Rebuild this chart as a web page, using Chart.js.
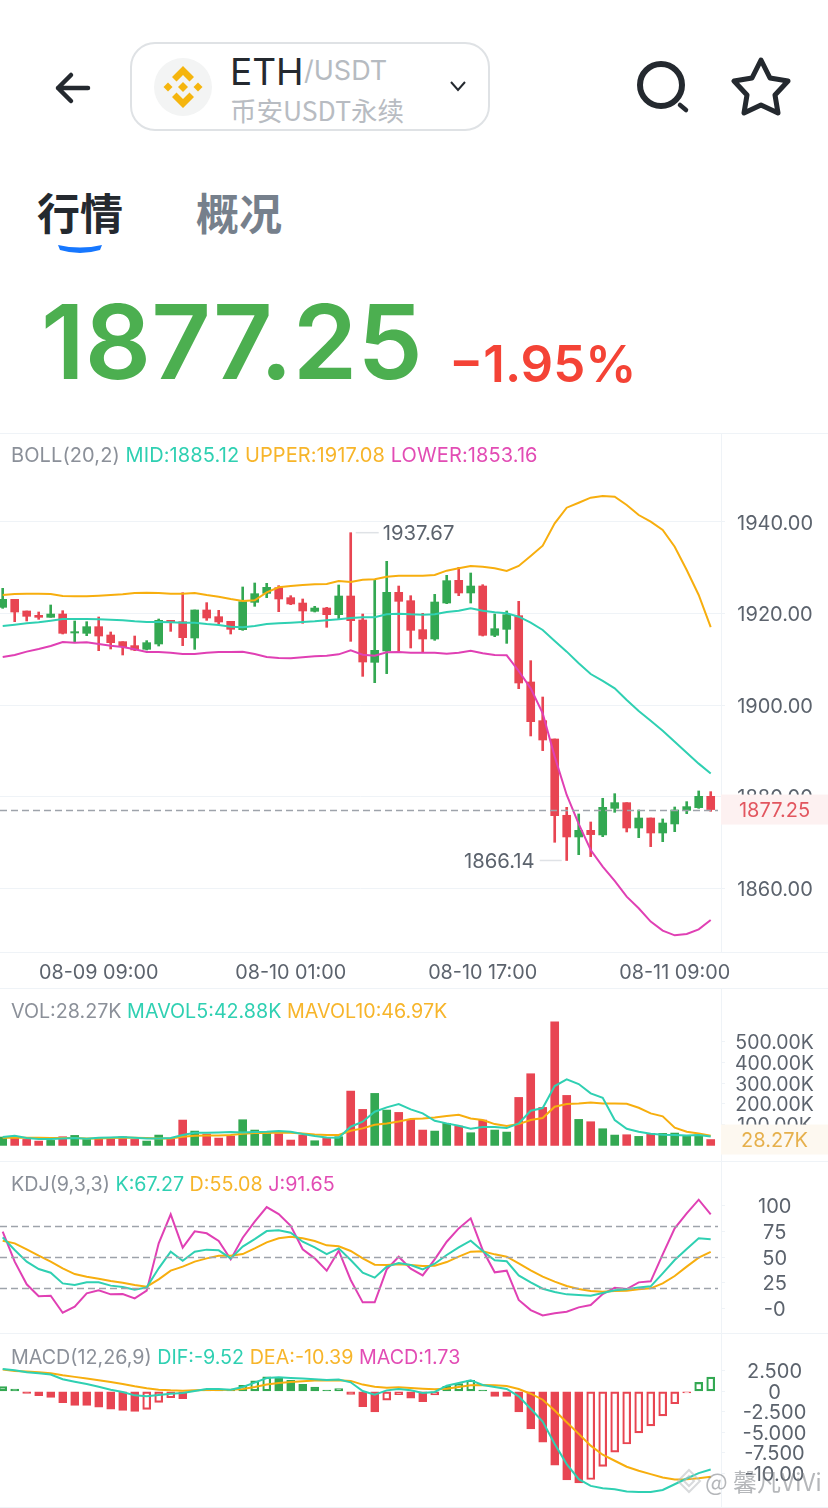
<!DOCTYPE html>
<html lang="zh">
<head>
<meta charset="utf-8">
<title>ETH/USDT</title>
<script src="https://cdn.jsdelivr.net/npm/chart.js@4"></script>
<style>
    html, body { margin: 0; padding: 0; background: #fff; }
    body { position: relative; width: 828px; height: 1508px; overflow: hidden; font-family: Inter, "Noto Sans CJK SC", sans-serif; }
    .abs { position: absolute; white-space: nowrap; line-height: 1; }
    canvas { position: absolute; left: 0; display: block; }
    .rule { position: absolute; left: 0; width: 828px; height: 1px; background: #eff3f7; }
    .legend { position: absolute; left: 11px; font-size: 19.7px; line-height: 22px; white-space: nowrap; color: #8b9099; }
    .teal { color: #2fd0b2; } .gold { color: #f7b52a; } .pink { color: #e24cb4; }
    .cjk { font-family: "Noto Sans CJK SC", sans-serif; }
</style>
</head>
<body>

<svg class="abs" style="left:0;top:0" width="828" height="270">
    <path d="M58 88 H88 M71 75 L58 88 L71 101" fill="none" stroke="#24292f" stroke-width="4.5" stroke-linecap="round" stroke-linejoin="round"/>
    <rect x="131" y="43" width="358" height="87" rx="24" fill="#fff" stroke="#dfe2e5" stroke-width="2"/>
    <circle cx="183" cy="87" r="29" fill="#f3f4f4"/>
    <g fill="#f5b50e" transform="translate(183 87)">
        <polygon points="0,-21 11,-10 6.5,-5.5 0,-12 -6.5,-5.5 -11,-10"/>
        <polygon points="0,21 11,10 6.5,5.5 0,12 -6.5,5.5 -11,10"/>
        <polygon points="0,-5 5,0 0,5 -5,0"/>
        <polygon points="-15,-4.5 -10.5,0 -15,4.5 -19.5,0"/>
        <polygon points="15,-4.5 19.5,0 15,4.5 10.5,0"/>
    </g>
    <path d="M451 82 L458 90 L465 82" fill="none" stroke="#24292f" stroke-width="2"/>
    <circle cx="661" cy="85" r="21" fill="none" stroke="#24292f" stroke-width="6"/>
    <path d="M680 105 L686 110" stroke="#24292f" stroke-width="4.5" stroke-linecap="round"/>
    <path d="M761 60 L770 78 L788 81 L775 95 L778 113 L761 105 L744 113 L747 95 L734 81 L752 78 Z" fill="none" stroke="#24292f" stroke-width="5" stroke-linejoin="round"/>
    <path d="M58 245 Q80 250 102 245 L100 250 Q80 256 60 250 Z" fill="#1677ff"/>
</svg>

<div class="abs" style="left:230px;top:53px;font-size:37px;color:#24292f">ETH</div>
<div class="abs" style="left:304px;top:57px;font-size:27px;color:#b6bbc1">/USDT</div>
<div class="abs cjk" style="left:230px;top:97px;font-size:26.5px;color:#b8bcc2">币安USDT永续</div>
<div class="abs cjk" style="left:37px;top:190px;font-size:43px;font-weight:700;color:#24292f">行情</div>
<div class="abs cjk" style="left:196px;top:190px;font-size:43px;font-weight:700;color:#76808c">概况</div>
<div class="abs" style="left:41px;top:290px;font-size:103.7px;font-weight:600;color:#4caf50">1877.25</div>
<div class="abs" style="left:449px;top:338px;font-size:51px;font-weight:600;color:#f44336">−1.95%</div>

<div class="rule" style="top:433px"></div>
<div class="rule" style="top:952px"></div>
<div class="rule" style="top:988px"></div>
<div class="rule" style="top:1161px"></div>
<div class="rule" style="top:1333px"></div>
<div class="rule" style="top:1507px"></div>

<canvas id="mainChart" width="828" height="555" style="top:433px"></canvas>
<canvas id="volChart" width="828" height="173" style="top:988px"></canvas>
<canvas id="kdjChart" width="828" height="172" style="top:1161px"></canvas>
<canvas id="macdChart" width="828" height="174" style="top:1334px"></canvas>

<div class="legend" style="top:444px;font-size:20px;letter-spacing:.1px">BOLL(20,2) <span class="teal">MID:1885.12</span> <span class="gold">UPPER:1917.08</span> <span class="pink">LOWER:1853.16</span></div>
<div class="legend" style="top:1000px">VOL:28.27K <span class="teal">MAVOL5:42.88K</span> <span class="gold">MAVOL10:46.97K</span></div>
<div class="legend" style="top:1173px">KDJ(9,3,3) <span class="teal">K:67.27</span> <span class="gold">D:55.08</span> <span class="pink">J:91.65</span></div>
<div class="legend" style="top:1346px">MACD(12,26,9) <span class="teal">DIF:-9.52</span> <span class="gold">DEA:-10.39</span> <span class="pink">MACD:1.73</span></div>

<svg class="abs" style="left:676px;top:1468px;opacity:.55" width="30" height="30">
    <g fill="none" stroke="#b9bcc0" stroke-width="2">
        <polygon points="13,2 24,13 13,24 2,13"/>
        <polygon points="13,8 18,13 13,18 8,13"/>
    </g>
</svg>
<div class="abs cjk" style="left:705px;top:1469px;font-size:24px;color:rgba(120,124,130,.55)">@ 馨凡ViVi</div>

<script>
// hourly candles, 08-09 01:00 to 08-11 12:00
const categories = [
    '08-09 01:00', '08-09 02:00', '08-09 03:00', '08-09 04:00', '08-09 05:00', '08-09 06:00', '08-09 07:00', '08-09 08:00',
    '08-09 09:00', '08-09 10:00', '08-09 11:00', '08-09 12:00', '08-09 13:00', '08-09 14:00', '08-09 15:00', '08-09 16:00',
    '08-09 17:00', '08-09 18:00', '08-09 19:00', '08-09 20:00', '08-09 21:00', '08-09 22:00', '08-09 23:00', '08-10 00:00',
    '08-10 01:00', '08-10 02:00', '08-10 03:00', '08-10 04:00', '08-10 05:00', '08-10 06:00', '08-10 07:00', '08-10 08:00',
    '08-10 09:00', '08-10 10:00', '08-10 11:00', '08-10 12:00', '08-10 13:00', '08-10 14:00', '08-10 15:00', '08-10 16:00',
    '08-10 17:00', '08-10 18:00', '08-10 19:00', '08-10 20:00', '08-10 21:00', '08-10 22:00', '08-10 23:00', '08-11 00:00',
    '08-11 01:00', '08-11 02:00', '08-11 03:00', '08-11 04:00', '08-11 05:00', '08-11 06:00', '08-11 07:00', '08-11 08:00',
    '08-11 09:00', '08-11 10:00', '08-11 11:00', '08-11 12:00'
];
const timeTickIndex = [8, 24, 40, 56];

const opens = [1921.38, 1923.12, 1920.58, 1919.63, 1919.20, 1919.92, 1915.78, 1915.71, 1917.16, 1915.34, 1913.89, 1913.02, 1912.22, 1913.38, 1918.54, 1918.25, 1914.69, 1920.80, 1919.34, 1918.32, 1916.51, 1922.47, 1924.43, 1925.67, 1923.49, 1922.32, 1920.51, 1921.23, 1919.78, 1923.85, 1918.62, 1909.38, 1911.85, 1924.65, 1922.83, 1916.51, 1914.47, 1922.32, 1927.27, 1924.51, 1926.03, 1915.27, 1916.58, 1919.56, 1905.09, 1896.65, 1892.65, 1876.00, 1871.27, 1872.72, 1871.71, 1877.52, 1878.76, 1873.23, 1875.41, 1872.14, 1874.11, 1877.09, 1877.67, 1880.14];
const highs = [1925.52, 1923.12, 1920.58, 1920.36, 1921.89, 1920.65, 1918.40, 1918.25, 1919.27, 1916.00, 1913.89, 1915.12, 1914.11, 1918.83, 1918.54, 1924.58, 1920.80, 1922.40, 1920.72, 1918.32, 1925.82, 1926.69, 1926.62, 1926.11, 1923.92, 1923.20, 1921.60, 1921.38, 1926.25, 1937.67, 1919.92, 1927.49, 1931.42, 1926.03, 1923.92, 1920.07, 1924.21, 1928.36, 1930.11, 1928.87, 1926.32, 1919.92, 1920.58, 1922.69, 1909.74, 1901.81, 1892.65, 1877.74, 1876.29, 1874.54, 1879.71, 1880.72, 1878.76, 1877.16, 1875.41, 1875.20, 1877.81, 1878.98, 1881.31, 1881.16];
const lows = [1921.16, 1918.25, 1918.40, 1918.76, 1919.20, 1915.56, 1913.74, 1915.20, 1911.92, 1912.29, 1910.98, 1911.92, 1912.07, 1912.94, 1916.14, 1913.02, 1912.22, 1918.54, 1917.74, 1915.56, 1916.36, 1921.60, 1923.49, 1920.43, 1921.96, 1917.89, 1920.36, 1917.02, 1918.69, 1913.96, 1906.32, 1904.94, 1906.91, 1911.78, 1912.51, 1911.63, 1914.18, 1922.18, 1923.92, 1922.32, 1915.12, 1914.98, 1913.52, 1903.63, 1893.31, 1890.11, 1870.11, 1866.14, 1867.41, 1866.98, 1871.34, 1876.65, 1872.36, 1871.12, 1869.16, 1870.25, 1872.43, 1876.36, 1877.52, 1876.87];
const closes = [1923.12, 1920.36, 1919.42, 1919.20, 1919.92, 1915.71, 1916.07, 1917.16, 1915.12, 1913.67, 1912.80, 1912.07, 1913.67, 1918.54, 1918.03, 1914.76, 1920.80, 1919.05, 1918.18, 1916.58, 1922.62, 1924.36, 1925.74, 1923.20, 1922.11, 1920.58, 1921.23, 1919.78, 1923.85, 1918.47, 1909.45, 1912.00, 1924.65, 1922.69, 1916.36, 1914.47, 1922.54, 1927.20, 1924.51, 1926.03, 1915.27, 1916.72, 1919.78, 1904.87, 1896.43, 1892.43, 1875.92, 1871.27, 1872.72, 1871.78, 1877.74, 1878.76, 1873.23, 1875.41, 1872.14, 1874.32, 1877.16, 1877.89, 1880.14, 1877.25];

const bollUpper = [1924.07, 1924.29, 1924.36, 1924.36, 1924.29, 1923.85, 1923.78, 1923.78, 1923.92, 1924.07, 1924.22, 1924.51, 1924.58, 1924.51, 1924.36, 1924.36, 1924.51, 1924.07, 1923.71, 1923.20, 1922.76, 1922.91, 1924.65, 1925.74, 1926.03, 1926.25, 1926.40, 1926.47, 1927.12, 1926.91, 1927.42, 1927.49, 1928.07, 1928.29, 1928.29, 1928.29, 1928.43, 1929.38, 1929.89, 1930.40, 1930.25, 1929.89, 1929.31, 1930.40, 1932.58, 1934.83, 1939.71, 1943.12, 1944.21, 1945.31, 1945.67, 1945.52, 1943.71, 1941.52, 1940.07, 1938.25, 1934.61, 1929.52, 1924.07, 1917.08];
const bollMid = [1917.31, 1917.60, 1917.89, 1918.11, 1918.47, 1918.83, 1918.83, 1918.83, 1918.76, 1918.69, 1918.54, 1918.32, 1918.18, 1918.18, 1918.11, 1918.03, 1918.03, 1917.74, 1917.52, 1917.16, 1917.02, 1917.31, 1917.74, 1917.89, 1918.03, 1918.18, 1918.32, 1918.54, 1918.76, 1919.05, 1919.20, 1919.20, 1919.85, 1920.00, 1919.85, 1919.78, 1919.85, 1920.36, 1920.65, 1921.16, 1920.65, 1920.29, 1920.07, 1919.34, 1918.03, 1916.43, 1914.03, 1911.71, 1909.16, 1906.83, 1905.31, 1903.71, 1901.16, 1898.76, 1896.65, 1894.47, 1892.07, 1889.67, 1887.27, 1885.12];
const bollLower = [1910.54, 1910.98, 1911.71, 1912.29, 1912.94, 1913.82, 1913.67, 1913.74, 1913.38, 1913.02, 1912.72, 1912.22, 1911.63, 1911.63, 1911.49, 1911.20, 1911.20, 1911.49, 1911.63, 1911.63, 1911.71, 1911.20, 1910.54, 1910.32, 1910.25, 1910.47, 1910.69, 1910.83, 1911.12, 1912.00, 1911.05, 1910.83, 1911.56, 1911.63, 1911.49, 1911.49, 1911.49, 1911.27, 1911.49, 1911.92, 1911.34, 1910.98, 1910.91, 1907.49, 1903.71, 1898.25, 1888.80, 1880.43, 1874.11, 1868.43, 1864.80, 1861.67, 1858.25, 1855.71, 1852.80, 1850.83, 1849.81, 1850.11, 1851.12, 1853.16];

// volume in thousands
const volumes = [40.3, 37.0, 29.0, 20.9, 24.2, 41.9, 48.3, 29.0, 37.0, 33.8, 41.9, 29.0, 20.9, 49.9, 32.2, 122.4, 69.2, 54.7, 35.4, 45.1, 124.0, 74.1, 61.2, 56.4, 25.8, 49.9, 22.5, 33.8, 41.9, 262.4, 173.9, 251.2, 170.7, 159.4, 125.6, 74.1, 69.2, 106.3, 93.4, 61.2, 122.4, 74.1, 64.4, 231.8, 346.2, 183.5, 597.3, 241.5, 125.6, 114.3, 80.5, 49.9, 51.5, 43.5, 58.0, 58.0, 59.6, 46.7, 49.9, 28.27];
const mavol5 = [40.3, 46.7, 35.4, 30.6, 30.6, 33.8, 35.4, 32.2, 37.0, 38.6, 40.3, 37.0, 33.8, 33.8, 35.4, 49.9, 61.2, 61.2, 62.8, 64.4, 62.8, 64.4, 66.0, 69.2, 66.0, 54.7, 45.1, 38.6, 37.0, 90.2, 114.3, 162.6, 183.5, 199.6, 173.9, 154.6, 119.1, 106.3, 95.0, 80.5, 88.6, 88.6, 83.7, 106.3, 167.4, 180.3, 286.6, 318.8, 296.2, 251.2, 230.2, 122.4, 80.5, 66.0, 56.4, 51.5, 49.9, 48.3, 49.9, 42.88];
const mavol10 = [37.0, 38.6, 37.0, 37.0, 35.4, 35.4, 35.4, 33.8, 33.8, 35.4, 37.0, 37.0, 35.4, 33.8, 33.8, 41.9, 46.7, 48.3, 48.3, 49.9, 56.4, 59.6, 59.6, 62.8, 61.2, 58.0, 53.1, 49.9, 49.9, 70.8, 82.1, 99.8, 106.3, 115.9, 127.2, 130.4, 135.2, 141.7, 148.1, 130.4, 122.4, 103.0, 93.4, 103.0, 122.4, 132.0, 186.8, 199.6, 202.9, 207.7, 202.9, 202.9, 201.3, 181.9, 154.6, 140.1, 85.3, 66.0, 58.0, 46.97];

const kdjK = [69.2, 56.8, 45.5, 38.3, 34.7, 24.3, 22.7, 25.3, 25.3, 22.1, 20.8, 18.2, 20.4, 39.0, 55.2, 46.4, 55.2, 57.2, 56.5, 48.7, 60.1, 67.5, 75.3, 76.0, 73.7, 64.9, 59.4, 52.9, 58.4, 47.1, 34.7, 29.9, 40.6, 44.2, 42.2, 38.0, 43.5, 52.0, 59.4, 65.9, 55.9, 46.8, 45.8, 32.1, 25.3, 19.1, 15.9, 13.6, 13.0, 12.3, 14.9, 17.5, 18.5, 20.4, 21.4, 34.1, 47.1, 57.8, 68.2, 67.27];
const kdjD = [65.9, 63.3, 57.5, 51.3, 45.5, 39.0, 33.4, 30.8, 28.9, 26.6, 25.0, 22.7, 21.1, 28.2, 36.7, 40.6, 45.5, 48.7, 51.3, 51.3, 52.9, 58.4, 64.3, 68.2, 69.8, 68.2, 65.6, 61.4, 60.4, 55.9, 48.7, 42.5, 42.2, 42.9, 42.2, 41.2, 41.6, 45.1, 50.3, 55.2, 55.5, 52.6, 50.3, 43.8, 37.0, 30.8, 26.0, 21.7, 18.8, 16.9, 16.2, 16.9, 17.2, 18.5, 19.5, 24.3, 31.5, 40.6, 49.4, 55.08];
const kdjJ = [74.7, 45.5, 23.4, 11.7, 12.3, -4.3, 1.6, 14.6, 17.5, 13.6, 13.9, 9.7, 17.2, 63.3, 91.6, 59.1, 75.0, 73.1, 65.6, 47.7, 68.8, 84.4, 98.7, 91.9, 80.5, 57.5, 48.7, 36.7, 56.2, 27.6, 5.8, 5.8, 38.0, 50.3, 38.6, 32.1, 47.7, 64.9, 77.9, 87.7, 56.8, 35.1, 36.7, 8.1, -1.7, -6.9, -4.9, -3.3, 0.9, 3.2, 13.9, 20.1, 18.8, 25.3, 26.3, 52.6, 77.9, 92.6, 105.9, 91.65];

const macdDif = [2.73, 2.57, 2.33, 2.20, 2.04, 1.47, 1.18, 0.90, 0.57, 0.20, -0.08, -0.49, -0.61, -0.45, -0.29, -0.20, 0.04, 0.29, 0.29, 0.20, 0.53, 1.06, 1.63, 1.71, 1.63, 1.55, 1.47, 1.39, 1.43, 1.10, 0.04, -0.41, 0.12, 0.29, 0.12, -0.20, -0.08, 0.69, 1.02, 1.35, 0.78, 0.53, 0.29, -0.61, -2.12, -3.67, -6.41, -8.86, -10.69, -11.51, -11.80, -11.92, -12.20, -12.24, -12.24, -12.00, -11.31, -10.61, -9.96, -9.52];
const macdDea = [2.65, 2.49, 2.41, 2.33, 2.20, 1.96, 1.76, 1.55, 1.35, 1.14, 0.90, 0.61, 0.37, 0.20, 0.12, 0.08, 0.12, 0.16, 0.16, 0.20, 0.29, 0.53, 0.82, 1.02, 1.14, 1.22, 1.31, 1.31, 1.35, 1.27, 0.82, 0.57, 0.45, 0.49, 0.41, 0.33, 0.24, 0.33, 0.53, 0.73, 0.78, 0.73, 0.65, 0.29, -0.29, -1.02, -2.33, -3.76, -5.18, -6.61, -7.71, -8.45, -9.18, -9.67, -10.08, -10.49, -10.73, -10.69, -10.57, -10.39];
const macdHist = [0.57, 0.29, -0.24, -0.53, -0.73, -1.39, -1.71, -1.71, -1.92, -2.16, -2.33, -2.45, -2.20, -1.35, -0.78, -0.90, 0.16, 0.29, 0.29, 0.24, 0.73, 1.27, 1.76, 1.63, 1.35, 0.86, 0.53, 0.16, 0.33, -0.37, -1.88, -2.49, -1.06, -0.41, -0.82, -1.27, -0.45, 0.61, 0.94, 1.35, 0.16, -0.61, -0.62, -2.49, -4.57, -6.20, -8.98, -10.78, -11.14, -10.73, -9.14, -7.39, -6.41, -5.06, -4.20, -2.98, -1.51, -0.20, 1.10, 1.73];

const priceTicks = [1940, 1920, 1900, 1880, 1860];
const volTicks = [500, 400, 300, 200, 100];
const kdjTicks = [100, 75, 50, 25, 0];
const kdjTickLabels = ['100', '75', '50', '25', '-0'];
const kdjLevels = [80, 50, 20];
const macdTicks = [2.5, 0, -2.5, -5, -7.5, -10];
const macdTickLabels = ['2.500', '0', '-2.500', '-5.000', '-7.500', '-10.00'];

const GREEN = '#33a852';
const RED = '#e84552';
const TEAL = '#2fd0b2';
const GOLD = '#f7ae0e';
const PINK = '#e040b4';
const GRID = '#eff3f7';
const LABEL = '#5c636d';

// 12px per candle, first candle centre 2.7px in from the left edge
const xMin = -0.225;
const xMax = 59.858;

const pts = arr => arr.map((y, x) => ({ x, y }));
const line = (values, color) => ({
    type: 'line', data: pts(values), borderColor: color, borderWidth: 2,
    pointRadius: 0, tension: 0, order: 0
});

function xAxis(show) {
    return {
        type: 'linear', min: xMin, max: xMax, offset: false, display: show,
        grid: { display: false }, border: { display: false },
        afterBuildTicks: s => { s.ticks = timeTickIndex.map(value => ({ value })); },
        afterFit: s => {
            s.paddingLeft = 0;
            s.paddingRight = 0;
            s.height = show ? 36 : 0;
        },
        ticks: {
            autoSkip: false, maxRotation: 0, padding: 1, color: LABEL,
            font: { family: 'Inter', size: 19.8 },
            callback: v => categories[v]
        }
    };
}

function yAxis(min, max, tickList, labelOf, padding, gridOn, fontSize = 20) {
    return {
        position: 'right', min, max,
        grid: { color: GRID, tickLength: 4, drawOnChartArea: gridOn, tickColor: GRID },
        border: { display: true, color: GRID },
        afterBuildTicks: s => { s.ticks = tickList.map(value => ({ value })); },
        afterFit: s => {
            s.width = 107;
            s.paddingTop = 0;
            s.paddingBottom = 0;
        },
        ticks: {
            autoSkip: false, crossAlign: 'center', padding, color: LABEL, labelOffset: 1.5,
            font: { family: 'Inter', size: fontSize },
            callback: labelOf
        }
    };
}

// dashed level lines across the plot
const levelLines = {
    id: 'levelLines',
    afterDatasetsDraw(chart, args, opts) {
        const { ctx, chartArea, scales } = chart;
        ctx.save();
        ctx.strokeStyle = '#9ea3ab';
        ctx.lineWidth = 1.5;
        ctx.setLineDash([7, 4]);
        (opts.values || []).forEach(v => {
            const y = Math.round(scales.y.getPixelForValue(v)) + 0.5;
            ctx.beginPath();
            ctx.moveTo(0, y);
            ctx.lineTo(chartArea.right - 3, y);
            ctx.stroke();
        });
        ctx.restore();
    }
};

// last-value tag over the right axis
const lastTag = {
    id: 'lastTag',
    afterDraw(chart, args, opts) {
        if (!opts.text) return;
        const { ctx, chartArea, scales } = chart;
        const y = scales.y.getPixelForValue(opts.value);
        ctx.save();
        ctx.fillStyle = opts.bg;
        ctx.fillRect(chartArea.right, y - 15, 107, 30);
        ctx.fillStyle = opts.color;
        ctx.font = '20px Inter';
        ctx.textAlign = 'center';
        ctx.textBaseline = 'middle';
        ctx.fillText(opts.text, 774.5, y + 1);
        ctx.restore();
    }
};

// labels for the highest high and the lowest low
const extremes = {
    id: 'extremes',
    afterDatasetsDraw(chart, args, opts) {
        if (!opts.show) return;
        const { ctx, scales } = chart;
        const hi = highs.indexOf(Math.max(...highs));
        const lo = lows.indexOf(Math.min(...lows));
        ctx.save();
        ctx.font = '20.3px Inter';
        ctx.textBaseline = 'middle';
        ctx.fillStyle = LABEL;
        ctx.strokeStyle = '#dfe2e6';
        ctx.lineWidth = 1.5;
        const xh = scales.x.getPixelForValue(hi), yh = scales.y.getPixelForValue(highs[hi]);
        ctx.beginPath(); ctx.moveTo(xh + 5, yh); ctx.lineTo(xh + 28, yh); ctx.stroke();
        ctx.textAlign = 'left';
        ctx.fillText(highs[hi].toFixed(2), xh + 32, yh + 1);
        const xl = scales.x.getPixelForValue(lo), yl = scales.y.getPixelForValue(lows[lo]);
        ctx.beginPath(); ctx.moveTo(xl - 27, yl); ctx.lineTo(xl - 5, yl); ctx.stroke();
        ctx.textAlign = 'right';
        ctx.fillText(lows[lo].toFixed(2), xl - 32, yl + 1);
        ctx.restore();
    }
};

Chart.register(levelLines, lastTag, extremes);

function makeChart(id, datasets, yScale, showX, pluginOpts) {
    return new Chart(document.getElementById(id), {
        type: 'bar',
        data: { datasets },
        options: {
            responsive: false, animation: false, devicePixelRatio: 1,
            layout: { padding: 0 },
            scales: { x: xAxis(showX), y: yScale },
            plugins: Object.assign({ legend: { display: false }, tooltip: { enabled: false } }, pluginOpts)
        }
    });
}

const candleColors = closes.map((c, i) => (c >= opens[i] ? GREEN : RED));

makeChart('mainChart', [
    line(bollUpper, GOLD), line(bollMid, TEAL), line(bollLower, PINK),
    {
        data: lows.map((l, x) => ({ x, y: [l, highs[x]] })),
        backgroundColor: candleColors, barThickness: 2, grouped: false, order: 1
    },
    {
        data: opens.map((o, x) => ({ x, y: [o, closes[x]] })),
        backgroundColor: candleColors, barThickness: 8, grouped: false, order: 1
    }
], yAxis(1846.17, 1959.42, priceTicks, v => v.toFixed(2), 12, true), true, {
    levelLines: { values: [closes[closes.length - 1]] },
    lastTag: { text: closes[closes.length - 1].toFixed(2), value: closes[closes.length - 1], bg: '#fdf1f1', color: '#e2565f' },
    extremes: { show: true }
});

makeChart('volChart', [
    line(mavol5, TEAL), line(mavol10, GOLD),
    {
        data: pts(volumes), backgroundColor: candleColors,
        barThickness: 8, grouped: false, order: 1
    }
], yAxis(-75.4, 760.4, volTicks, v => v.toFixed(2) + 'K', 10, false, 19.4), false, {
    lastTag: { text: '28.27K', value: volumes[volumes.length - 1], bg: '#fdf8f0', color: '#e6b04c' }
});

makeChart('kdjChart', [
    line(kdjK, TEAL), line(kdjD, GOLD), line(kdjJ, PINK)
], yAxis(-24.07, 143.6, kdjTicks, v => kdjTickLabels[kdjTicks.indexOf(v)], 33, false), false, {
    levelLines: { values: kdjLevels }
});

const histColors = macdHist.map(v => (v >= 0 ? GREEN : RED));
const histFill = macdHist.map((v, i) => (i === 0 || v > macdHist[i - 1] ? 'rgba(255,255,255,0)' : histColors[i]));

makeChart('macdChart', [
    line(macdDif, TEAL), line(macdDea, GOLD),
    {
        data: pts(macdHist), backgroundColor: histFill, borderColor: histColors, borderWidth: 1.5,
        borderSkipped: false, barThickness: 8, grouped: false, order: 1
    }
], yAxis(-14.2, 6.98, macdTicks, v => macdTickLabels[macdTicks.indexOf(v)], 17.5, false), false, {});
</script>
</body>
</html>
